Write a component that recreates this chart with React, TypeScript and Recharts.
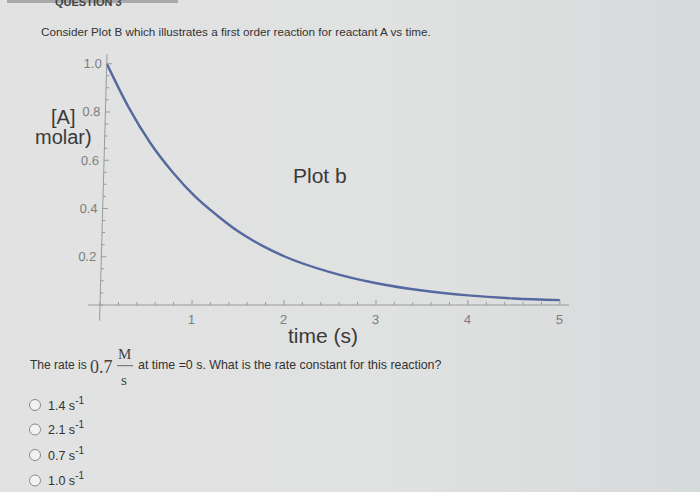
import React from "react";
import { LineChart, Line, XAxis, YAxis, ReferenceLine } from "recharts";

// time (s) and [A] (molar)
const times = [0, 0.25, 0.5, 0.75, 1, 1.25, 1.5, 1.75, 2, 2.5, 3, 3.5, 4, 4.5, 5];
const conc = [1.0, 0.82, 0.67, 0.55, 0.45, 0.37, 0.3, 0.245, 0.2, 0.135, 0.09, 0.06, 0.04, 0.027, 0.02];

const xTicks = [
  0, 0.2, 0.4, 0.6, 0.8, 1, 1.2, 1.4, 1.6, 1.8, 2, 2.2, 2.4, 2.6, 2.8, 3,
  3.2, 3.4, 3.6, 3.8, 4, 4.2, 4.4, 4.6, 4.8, 5,
];
const yTicks = [
  0, 0.05, 0.1, 0.15, 0.2, 0.25, 0.3, 0.35, 0.4, 0.45, 0.5, 0.55, 0.6, 0.65, 0.7,
  0.75, 0.8, 0.85, 0.9, 0.95, 1.0,
];
const xLabels = [1, 2, 3, 4, 5];
const yLabels = [0.2, 0.4, 0.6, 0.8, 1.0];

const answers = ["1.4", "2.1", "0.7", "1.0"];

const data = times.map((t, i) => ({ t, a: conc[i] }));

const axisGray = "#9a9a9a";
const labelGray = "#7e7e7e";
const sans = "'Liberation Sans', Arial, sans-serif";
const serif = "'Liberation Serif', 'Times New Roman', serif";

const near = (v: number, list: number[]) => list.some((m) => Math.abs(m - v) < 1e-6);

function XTick({ x, y, payload }: any) {
  const v = payload.value;
  const major = near(v, xLabels);
  return (
    <g>
      <line x1={x} x2={x} y1={y} y2={y - (major ? 5 : 3)} stroke={axisGray} />
      {major && (
        <text x={x} y={y + 19.5} textAnchor="middle" fontSize={13} fill={labelGray} fontFamily={sans}>
          {v}
        </text>
      )}
    </g>
  );
}

function YTick({ x, y, payload }: any) {
  const v = payload.value;
  const major = near(v, yLabels);
  return (
    <g>
      <line x1={x} x2={x + (major ? 5 : 3)} y1={y} y2={y} stroke={axisGray} />
      {major && (
        <text x={x - 5} y={y + 4.5} textAnchor="end" fontSize={13} fill={labelGray} fontFamily={sans}>
          {v.toFixed(1)}
        </text>
      )}
    </g>
  );
}

export default function App() {
  return (
    <div
      style={{
        position: "absolute",
        left: 0,
        top: 0,
        width: 700,
        height: 492,
        overflow: "hidden",
        background: "linear-gradient(90deg, #e1e2e1 0%, #e0e1e1 55%, #d7dadb 100%)",
        fontFamily: sans,
      }}
    >
      <div style={{ position: "absolute", left: 0, top: 0, transform: "skewX(-1.6deg)", transformOrigin: "0 305px" }}>
        <LineChart width={700} height={492} data={data} margin={{ top: 54, right: 131, bottom: 157, left: 40 }}>
          <XAxis
            dataKey="t"
            type="number"
            domain={[0, 5.1]}
            ticks={xTicks}
            interval={0}
            height={30}
            tickSize={0}
            tickMargin={0}
            tickLine={false}
            axisLine={{ stroke: axisGray }}
            tick={<XTick />}
          />
          <YAxis
            type="number"
            domain={[0, 1.04]}
            ticks={yTicks}
            interval={0}
            width={60}
            tickSize={0}
            tickMargin={0}
            tickLine={false}
            axisLine={{ stroke: axisGray }}
            tick={<YTick />}
          />
          <ReferenceLine segment={[{ x: 0, y: 0 }, { x: 0, y: -0.065 }]} stroke={axisGray} ifOverflow="visible" />
          <ReferenceLine segment={[{ x: -0.13, y: 0 }, { x: 0, y: 0 }]} stroke={axisGray} ifOverflow="visible" />
          <Line
            type="monotone"
            dataKey="a"
            stroke="#56699f"
            strokeWidth={2.4}
            dot={false}
            isAnimationActive={false}
          />
        </LineChart>
      </div>

      <svg width={700} height={492} style={{ position: "absolute", left: 0, top: 0 }}>
        <rect x={7} y={0} width={171} height={3} fill="#a6a8a9" />
        <text x={55} y={6} fontSize={11} fontWeight="bold" fill="#444" fontFamily={sans}>
          QUESTION 3
        </text>
        <text x={41} y={35.5} fontSize={11.7} fill="#333" fontFamily={sans}>
          Consider Plot B which illustrates a first order reaction for reactant A vs time.
        </text>

        <text x={51} y={124} fontSize={20} fill="#3a3a3a" fontFamily={sans}>[A]</text>
        <text x={35} y={144} fontSize={20} fill="#3a3a3a" fontFamily={sans}>molar)</text>
        <text x={293} y={183} fontSize={21} fill="#3a3a3a" fontFamily={sans}>Plot b</text>
        <text x={288} y={343} fontSize={21} fill="#3a3a3a" fontFamily={sans}>time (s)</text>

        <text x={30} y={369.3} fontSize={12} fill="#333" fontFamily={sans}>The rate is</text>
        <text x={90} y={373.3} fontSize={18} fill="#444" fontFamily={serif}>0.7</text>
        <text x={118} y={359} fontSize={15} fill="#444" fontFamily={serif}>M</text>
        <line x1={117} x2={133} y1={365.7} y2={365.7} stroke="#666" strokeWidth={1} />
        <text x={121} y={385} fontSize={15} fill="#444" fontFamily={serif}>s</text>
        <text x={138} y={369.3} fontSize={12.4} fill="#333" fontFamily={sans}>
          at time =0 s. What is the rate constant for this reaction?
        </text>

        {answers.map((a, i) => {
          const cy = [405, 429.5, 455, 480.5][i];
          return (
            <g key={a}>
              <circle cx={35} cy={cy} r={5.5} fill="#f2f2f2" stroke="#8a8a8a" strokeWidth={1} />
              <text x={48} y={cy + 4.5} fontSize={12.5} fill="#333" fontFamily={sans}>
                {a} s
                <tspan dy={-6} fontSize={10}>-1</tspan>
              </text>
            </g>
          );
        })}
      </svg>
    </div>
  );
}
